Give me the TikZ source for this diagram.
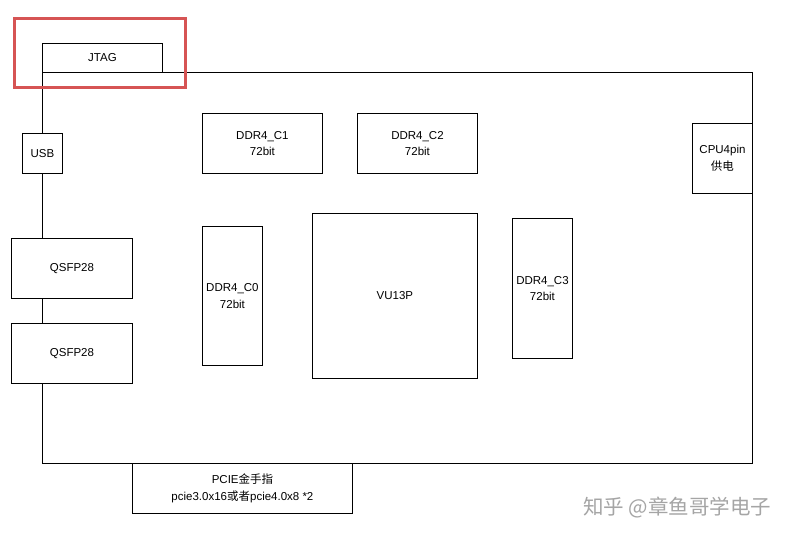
\documentclass[tikz,border=0pt]{standalone}
\usepackage{fontspec}
\setmainfont{Liberation Sans}
\newfontfamily\cjk{Noto Sans CJK SC}
\begin{document}
\begin{tikzpicture}[x=1pt,y=-1pt,
  blk/.style={draw=black,fill=white,line width=0.9pt,font=\fontsize{11.5}{16.5}\selectfont,align=center,inner sep=0pt},
]
\useasboundingbox (0,0) rectangle (792,541);
\fill[white] (0,0) rectangle (792,541);
% board
\draw[line width=0.9pt] (42,72) rectangle (752,463);
\node[blk,minimum width=120,minimum height=29,anchor=north west] (jtag) at (42,43) {JTAG};
\node[blk,minimum width=40,minimum height=40,anchor=north west] (usb) at (22,133) {USB};
\node[blk,minimum width=121,minimum height=60,anchor=north west] (q1) at (11,238) {QSFP28};
\node[blk,minimum width=121,minimum height=60,anchor=north west] (q2) at (11,323) {QSFP28};
\node[blk,minimum width=120,minimum height=60,anchor=north west] (c1) at (202,113) {DDR4\_C1\\72bit};
\node[blk,minimum width=120,minimum height=60,anchor=north west] (c2) at (357,113) {DDR4\_C2\\72bit};
\node[blk,minimum width=60,minimum height=70,anchor=north west] (cpu) at (692,123) {CPU4pin\\{\cjk 供电}};
\node[blk,minimum width=60,minimum height=139,anchor=north west] (c0) at (202,226) {DDR4\_C0\\72bit};
\node[blk,minimum width=165,minimum height=165,anchor=north west] (vu) at (312,213) {VU13P};
\node[blk,minimum width=60,minimum height=140,anchor=north west] (c3) at (512,218) {DDR4\_C3\\72bit};
\node[blk,minimum width=220,minimum height=50,anchor=north west] (pcie) at (132,463) {PCIE{\cjk 金手指}\\pcie3.0x16{\cjk 或者}pcie4.0x8 *2};
% red highlight
\draw[line width=3pt,draw={rgb,255:red,214;green,84;blue,84}] (14,18) rectangle (185,87);
% watermark
\node[text={rgb,255:red,165;green,165;blue,165},font=\cjk\fontsize{20.5}{22}\selectfont,anchor=west,inner sep=0pt] (wm) at (583,508) {知乎 @章鱼哥学电子};
\end{tikzpicture}
\end{document}
